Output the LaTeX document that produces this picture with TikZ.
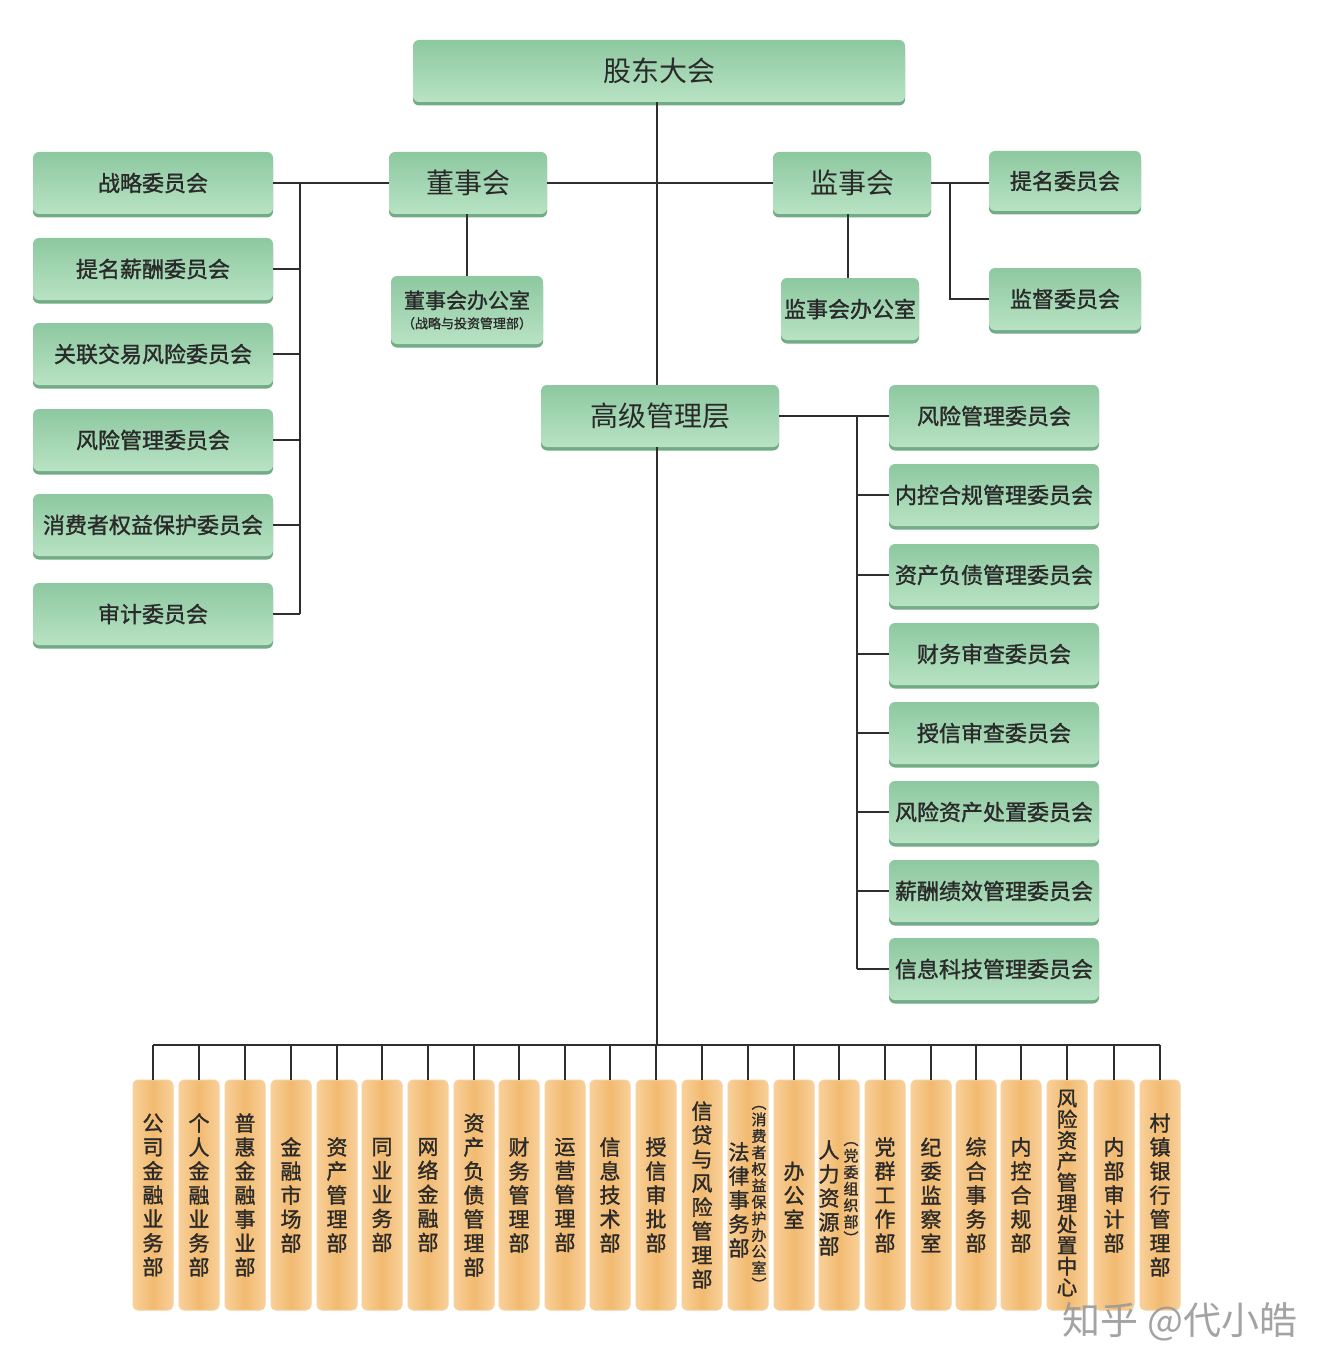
\documentclass[tikz,border=0pt]{standalone}
\usepackage{fontspec}
\newfontfamily\cjk{Noto Sans CJK SC}
\newfontfamily\cjkb[FakeBold=1.3]{Noto Sans CJK SC}
\usetikzlibrary{shadows}
\definecolor{G1}{HTML}{8DC8A0}
\definecolor{G2}{HTML}{B8E3C4}
\definecolor{Gs}{HTML}{72AC86}
\definecolor{O1}{HTML}{F2BA70}
\definecolor{O2}{HTML}{F8D09A}
\definecolor{Ln}{HTML}{2E2E2E}
\definecolor{Tx}{HTML}{2A2A2A}
\definecolor{Wm}{HTML}{9A9A9A}
\begin{document}
\begin{tikzpicture}[x=1pt,y=-1pt,
  gbox/.style={rounded corners=6pt, top color=G1, bottom color=G2, draw=none, inner sep=0pt,
    text=Tx, align=center, font=\cjkb\fontsize{22}{24}\selectfont,
    drop shadow={shadow xshift=0pt, shadow yshift=-3.5pt, fill=Gs, opacity=1}},
  bigtxt/.style={font=\cjk\fontsize{28}{30}\selectfont},
  lcom/.style={gbox, minimum width=240pt, minimum height=62pt},
  rcom/.style={gbox, minimum width=210pt, minimum height=62pt},
  obox/.style={rounded corners=5pt, left color=O2, right color=O2, middle color=O1, draw=O2, line width=1pt,
    inner sep=0pt, minimum width=40pt, minimum height=230pt, text=Tx, align=center,
    font=\cjkb\fontsize{21}{24}\selectfont},
  vtxt/.style={inner sep=0pt, text=Tx, align=center, font=\cjkb\fontsize{21}{24}\selectfont},
  small/.style={inner sep=0pt, text=Tx, align=center, font=\cjkb\fontsize{15}{16.5}\selectfont},
  ln/.style={draw=Ln, line width=1.6pt}]
\useasboundingbox (0,0) rectangle (1338,1372);
\fill[white] (0,0) rectangle (1338,1372);

% top
\node[gbox, bigtxt, minimum width=492pt, minimum height=62pt] (gd) at (659,71) {股东大会};
\node[gbox, bigtxt, minimum width=158pt, minimum height=62pt] (dsh) at (468,183) {董事会};
\node[gbox, bigtxt, minimum width=158pt, minimum height=62pt] (jsh) at (852,183) {监事会};
\node[gbox, minimum width=152pt, minimum height=68pt, font=\cjkb\fontsize{21}{22}\selectfont] (dshbgs) at (467,310)
  {董事会办公室\\[-2pt]{\fontsize{13}{14}\selectfont （战略与投资管理部）}};
\node[gbox, minimum width=138pt, minimum height=62pt] (jshbgs) at (850,309) {监事会办公室};
\node[gbox, minimum width=152pt, minimum height=60pt] (tm) at (1065,181) {提名委员会};
\node[gbox, minimum width=152pt, minimum height=62pt] (jd) at (1065,299) {监督委员会};
\node[gbox, bigtxt, minimum width=238pt, minimum height=62pt] (gj) at (660,416) {高级管理层};

% left committees
\node[lcom] (L1) at (153,183) {战略委员会};
\node[lcom] (L2) at (153,269) {提名薪酬委员会};
\node[lcom] (L3) at (153,354) {关联交易风险委员会};
\node[lcom] (L4) at (153,440) {风险管理委员会};
\node[lcom] (L5) at (153,525) {消费者权益保护委员会};
\node[lcom] (L6) at (153,614) {审计委员会};

% right committees
\node[rcom] (R1) at (994,416) {风险管理委员会};
\node[rcom] (R2) at (994,495) {内控合规管理委员会};
\node[rcom] (R3) at (994,575) {资产负债管理委员会};
\node[rcom] (R4) at (994,654) {财务审查委员会};
\node[rcom] (R5) at (994,733) {授信审查委员会};
\node[rcom] (R6) at (994,812) {风险资产处置委员会};
\node[rcom] (R7) at (994,891) {薪酬绩效管理委员会};
\node[rcom] (R8) at (994,969) {信息科技管理委员会};

% bottom departments
\node[obox] (B1) at (153,1195) {公\\司\\金\\融\\业\\务\\部};
\node[obox] (B2) at (199,1195) {个\\人\\金\\融\\业\\务\\部};
\node[obox] (B3) at (245,1195) {普\\惠\\金\\融\\事\\业\\部};
\node[obox] (B4) at (291,1195) {金\\融\\市\\场\\部};
\node[obox] (B5) at (337,1195) {资\\产\\管\\理\\部};
\node[obox] (B6) at (382,1195) {同\\业\\业\\务\\部};
\node[obox] (B7) at (428,1195) {网\\络\\金\\融\\部};
\node[obox] (B8) at (474,1195) {资\\产\\负\\债\\管\\理\\部};
\node[obox] (B9) at (519,1195) {财\\务\\管\\理\\部};
\node[obox] (B10) at (565,1195) {运\\营\\管\\理\\部};
\node[obox] (B11) at (610,1195) {信\\息\\技\\术\\部};
\node[obox] (B12) at (656,1195) {授\\信\\审\\批\\部};
\node[obox] (B13) at (702,1195) {信\\贷\\与\\风\\险\\管\\理\\部};
\node[obox] (B14) at (748,1195) {};
\node[vtxt] (B14a) at (739,1200) {法\\律\\事\\务\\部};
\node[small] (B14b) at (759,1198) {︵\\消\\费\\者\\权\\益\\保\\护\\办\\公\\室\\︶};
\node[obox] (B15) at (794,1195) {办\\公\\室};
\node[obox] (B16) at (839,1195) {};
\node[vtxt] (B16a) at (829,1198) {人\\力\\资\\源\\部};
\node[small] (B16b) at (851,1193) {︵\\党\\委\\组\\织\\部\\︶};
\node[obox] (B17) at (885,1195) {党\\群\\工\\作\\部};
\node[obox] (B18) at (931,1195) {纪\\委\\监\\察\\室};
\node[obox] (B19) at (976,1195) {综\\合\\事\\务\\部};
\node[obox] (B20) at (1021,1195) {内\\控\\合\\规\\部};
\node[obox] (B21) at (1067,1195) {};
\node[vtxt, font=\cjkb\fontsize{20.5}{21}\selectfont] (B21a) at (1067,1193) {风\\险\\资\\产\\管\\理\\处\\置\\中\\心};
\node[obox] (B22) at (1114,1195) {内\\部\\审\\计\\部};
\node[obox] (B23) at (1160,1195) {村\\镇\\银\\行\\管\\理\\部};

% helper coordinates
\coordinate (lb) at (300,183);
\coordinate (rb) at (857,416);
\coordinate (jb) at (950,183);
\coordinate (bb) at (657,1045);

% connectors
\draw[ln] (gd.south -| bb) -- (gj.north -| bb);
\draw[ln] (gj.south -| bb) -- (bb);
\draw[ln] (dsh.east) -- (jsh.west);
\draw[ln] (dshbgs.north) -- (dshbgs.north |- dsh.south);
\draw[ln] (jshbgs.north -| 848,0) -- (jsh.south -| 848,0);
\draw[ln] (jsh.east) -- (tm.west |- jsh.east);
\draw[ln] (jb) |- (jd.west);
\draw[ln] (L1.east) -- (dsh.west);
\draw[ln] (lb) -- (L6.east -| lb);
\foreach \i in {2,...,6} {\draw[ln] (L\i.east) -- (L\i.east -| lb);}
\draw[ln] (gj.east) -- (R1.west);
\draw[ln] (rb) -- (R8.west -| rb);
\foreach \i in {2,...,8} {\draw[ln] (R\i.west) -- (R\i.west -| rb);}
\draw[ln] (B1.north |- bb) -- (B23.north |- bb);
\foreach \i in {1,...,23} {\draw[ln] (B\i.north) -- (B\i.north |- bb);}

% watermark
\node[text=Wm, opacity=0.9, font=\cjk\fontsize{38}{40}\selectfont, inner sep=0pt] (wm) at (1180,1322) {知乎 @代小皓};
\end{tikzpicture}
\end{document}
